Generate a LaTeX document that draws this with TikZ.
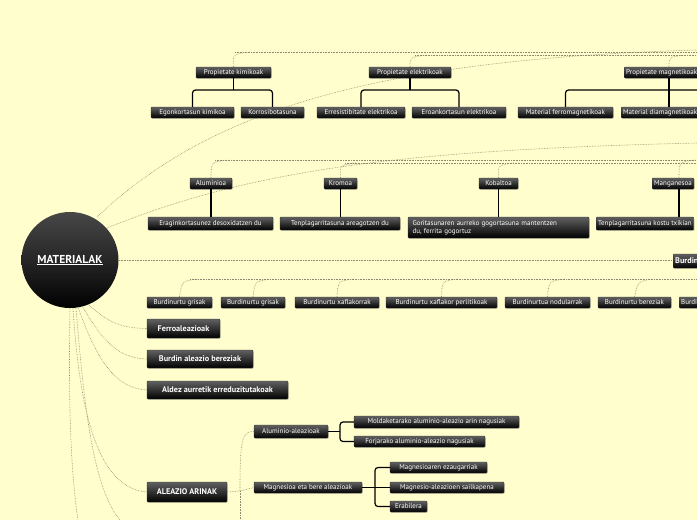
\documentclass[tikz,border=0pt]{standalone}
\usepackage{fontspec}
\setmainfont{PT Sans}
\usetikzlibrary{shadows,shapes.geometric}
\definecolor{bg}{HTML}{FFFECC}
\definecolor{dl}{HTML}{8C8A70}
\tikzset{
  box/.style={rectangle, rounded corners=1pt, top color=black!62, bottom color=black, draw=black!80, text=white,
    font=\fontsize{7}{8}\selectfont, inner xsep=2pt, inner ysep=0pt,
    drop shadow={opacity=0.35, shadow xshift=0.8pt, shadow yshift=-0.8pt}},
  bbox/.style={box, font=\fontsize{8.2}{9}\selectfont\bfseries},
  dl/.style={draw=dl, densely dotted, line width=0.6pt},
  br/.style={draw=black, line width=1.2pt, rounded corners=3pt}
}
\newcommand\nd[7][box]{\node[#1, minimum width={#4-#2}, minimum height={#5-#3}] (#6) at ({(#2+#4)/2},{(#3+#5)/2}) {#7};}
\newcommand\ndw[6][box]{\node[#1, anchor=west, minimum height={#4-#3}] (#5) at (#2,{(#3+#4)/2}) {#6};}
\begin{document}
\begin{tikzpicture}[x=1pt,y=-1pt]
\fill[bg] (0,0) rectangle (697,520);
\clip (0,0) rectangle (697,520);
% dotted long lines (behind)
\draw[dl] (97,217) .. controls (200,120) and (350,60) .. (697,50);
\draw[dl] (107,228) .. controls (250,170) and (400,150) .. (697,143);
\draw[dl] (235,52) -- (697,52);
\draw[dl] (415,55) -- (697,55);
\draw[dl] (215,160) -- (697,160);
\draw[dl] (345,163) -- (697,163);
\draw[dl] (190,279) -- (697,279);
\draw[dl] (119,260) -- (673,260);
% center
\node[ellipse, minimum width=97, minimum height=96, top color=black!72, bottom color=black, middle color=black!85] (mat) at (70,260) {};
\node[text=white, font=\fontsize{11.5}{12}\selectfont\bfseries] (matt) at (70,260) {\underline{MATERIALAK}};
% top row
\nd{196}{67}{271}{78}{pk}{Propietate kimikoak}
\nd{369}{67}{451}{78}{pe}{Propietate elektrikoak}
\ndw{624}{67}{78}{pm}{Propietate magnetikoak}
\nd{151}{107}{234}{118}{ego}{Egonkortasun kimikoa}
\nd{241}{107}{304}{118}{kor}{Korrosibotasuna}
\nd{317}{107}{405}{118}{err}{Erresistibitate elektrikoa}
\nd{412}{107}{506}{118}{ero}{Eroankortasun elektrikoa}
\nd{518}{107}{613}{118}{fer}{Material ferromagnetikoak}
\ndw{621}{107}{118}{dia}{Material diamagnetikoak}
\draw[dl] (pk.north) .. controls (233,54) .. (250,52);
\draw[dl] (pe.north) .. controls (410,57) .. (428,55);
\draw[dl] (669,67) .. controls (669,57) .. (685,55);
\draw[br] (pk.south) -- (pk.south |- 0,90);
\draw[br] (ego.north) -- (ego.north |- 0,90) -- (kor.north |- 0,90) -- (kor.north);
\draw[br] (pe.south) -- (pe.south |- 0,90);
\draw[br] (err.north) -- (err.north |- 0,90) -- (ero.north |- 0,90) -- (ero.north);
\draw[br] (669,78) -- (669,107);
\draw[br] (fer.north) -- (fer.north |- 0,90) -- (720,90);
% metals row
\nd{190}{178}{232}{189}{alu}{Aluminioa}
\nd{324}{178}{357}{189}{kro}{Kromoa}
\nd{479}{178}{518}{189}{kob}{Kobaltoa}
\ndw{652}{178}{189}{man}{Manganesoa}
\nd{148}{217}{273}{230}{erag}{Eraginkortasunez desoxidatzen du}
\nd{280}{217}{400}{230}{ten}{Tenplagarritasuna areagotzen du}
\node[box, minimum width=181, minimum height=21, text width=172, align=left] (gor) at (498.5,227.5) {\hyphenpenalty=10000 Goritasunaren aurreko gogortasuna mantentzen\\du, ferrita gogortuz};
\ndw{596}{217}{230}{tk}{Tenplagarritasuna kostu txikian}
\draw[dl] (alu.north) .. controls (211,162) .. (228,160);
\draw[dl] (kro.north) .. controls (340,165) .. (356,163);
\draw[dl] (kob.north) .. controls (498,165) .. (514,163);
\draw[dl] (679,178) .. controls (679,162) .. (695,160);
\draw[br] (alu.south) -- (erag.north -| alu.south);
\draw[br] (kro.south) -- (ten.north -| kro.south);
\draw[br] (kob.south) -- (gor.north -| kob.south);
\draw[br] (679,189) -- (679,217);
% burdinurtu
\ndw[bbox]{673}{254}{268}{burd}{Burdinurtuak}
\nd{147}{297}{212}{308}{b1}{Burdinurtu grisak}
\nd{221}{297}{285}{308}{b2}{Burdinurtu grisak}
\nd{295}{297}{379}{308}{b3}{Burdinurtu xaflakorrak}
\nd{386}{297}{497}{308}{b4}{Burdinurtu xaflakor perlitikoak}
\nd{505}{297}{590}{308}{b5}{Burdinurtua nodularrak}
\nd{598}{297}{671}{308}{b6}{Burdinurtu bereziak}
\ndw{679}{297}{308}{b7}{Burdinurtu zuriak}
\foreach \n/\x in {b1/182,b2/255,b3/338,b4/442,b5/549,b6/638}{
  \draw[dl] (\n.north) .. controls (\x,281) .. (\x+16,279);
}
% bold nodes
\nd[bbox]{147}{319}{220}{338}{ferro}{Ferroaleazioak}
\nd[bbox]{147}{350}{253}{368}{bab}{Burdin aleazio bereziak}
\nd[bbox]{147}{381}{288}{399}{ald}{Aldez aurretik erreduzitutakoak}
\nd[bbox]{147}{482}{227}{502}{ale}{ALEAZIO ARINAK}
\draw[dl] (88,304) .. controls (110,325) and (125,328) .. (ferro.west);
\draw[dl] (82,306) .. controls (105,345) and (120,358) .. (bab.west);
\draw[dl] (78,307) .. controls (100,370) and (120,388) .. (ald.west);
\draw[dl] (73,308) .. controls (80,420) and (100,488) .. (ale.west);
\draw[dl] (70,308) .. controls (68,420) and (72,480) .. (78,520);
\draw[dl] (76,308) .. controls (85,420) and (95,490) .. (120,520);
% aleazio arinak
\nd{254}{425}{328}{438}{alal}{Aluminio-aleazioak}
\nd{354}{416}{519}{428}{mold}{Moldaketarako aluminio-aleazio arin nagusiak}
\nd{354}{436}{485}{447}{forj}{Forjarako aluminio-aleazio nagusiak}
\nd{254}{482}{362}{493}{mag}{Magnesioa eta bere aleazioak}
\nd{390}{462}{487}{473}{mez}{Magnesioaren ezaugarriak}
\nd{390}{482}{504}{493}{msa}{Magnesio-aleazioen sailkapena}
\nd{390}{501}{427}{512}{era}{Erabilera}
\coordinate (tr) at (240,491);
\draw[dl] (ale.east) -- (tr);
\draw[dl] (tr) -- (mag.west);
\draw[dl] (tr) .. controls (240,440) and (242,431) .. (alal.west);
\draw[dl] (tr) -- (240,520);
\draw[br] (alal.east) -- (340,431.5);
\draw[br] (mold.west) -- (340,422) -- (340,441.5) -- (forj.west);
\draw[br] (mag.east) -- (375,487.5);
\draw[br] (mez.west) -- (375,467.5) -- (375,506.5) -- (era.west);
\draw[br] (375,487.5) -- (msa.west);
\end{tikzpicture}
\end{document}
